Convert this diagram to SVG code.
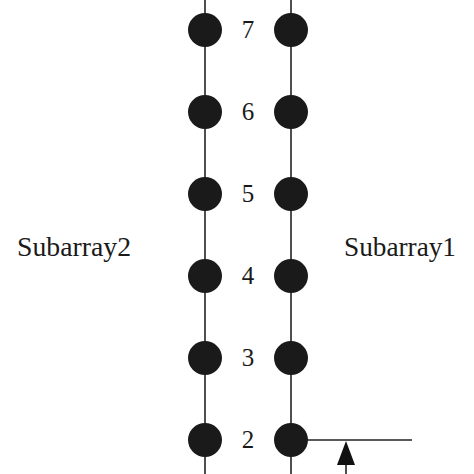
<svg xmlns="http://www.w3.org/2000/svg" width="474" height="474" viewBox="0 0 474 474">
<style>
.ln{stroke:#222;stroke-width:1.6;fill:none}
.nd{fill:#1a1a1a}
.num{font-family:"Liberation Serif",serif;font-size:25px;fill:#1a1a1a;text-anchor:middle}
.lbl{font-family:"Liberation Serif",serif;font-size:28px;fill:#1a1a1a}
</style>
<rect width="474" height="474" fill="#fff"/>
<g id="connectors">
<line class="ln" x1="205" y1="0" x2="205" y2="474"/>
<line class="ln" x1="291" y1="0" x2="291" y2="474"/>
<line class="ln" x1="291" y1="440" x2="412" y2="440"/>
<line class="ln" x1="346" y1="462" x2="346" y2="474"/>
<polygon fill="#111" points="346,441 337,465 355,465"/>
</g>
<g id="left">
<circle class="nd" cx="205" cy="30" r="17"/>
<circle class="nd" cx="205" cy="112" r="17"/>
<circle class="nd" cx="205" cy="194" r="17"/>
<circle class="nd" cx="205" cy="276" r="17"/>
<circle class="nd" cx="205" cy="358" r="17"/>
<circle class="nd" cx="205" cy="440" r="17"/>
</g>
<g id="right">
<circle class="nd" cx="291" cy="30" r="17"/>
<circle class="nd" cx="291" cy="112" r="17"/>
<circle class="nd" cx="291" cy="194" r="17"/>
<circle class="nd" cx="291" cy="276" r="17"/>
<circle class="nd" cx="291" cy="358" r="17"/>
<circle class="nd" cx="291" cy="440" r="17"/>
</g>
<g id="numbers">
<text class="num" x="248" y="38">7</text>
<text class="num" x="248" y="120">6</text>
<text class="num" x="248" y="202">5</text>
<text class="num" x="248" y="284">4</text>
<text class="num" x="248" y="366">3</text>
<text class="num" x="248" y="448">2</text>
</g>
<g id="labels">
<text class="lbl" x="17" y="256" textLength="114" lengthAdjust="spacingAndGlyphs">Subarray2</text>
<text class="lbl" x="344" y="256" textLength="112" lengthAdjust="spacingAndGlyphs">Subarray1</text>
</g>
</svg>
